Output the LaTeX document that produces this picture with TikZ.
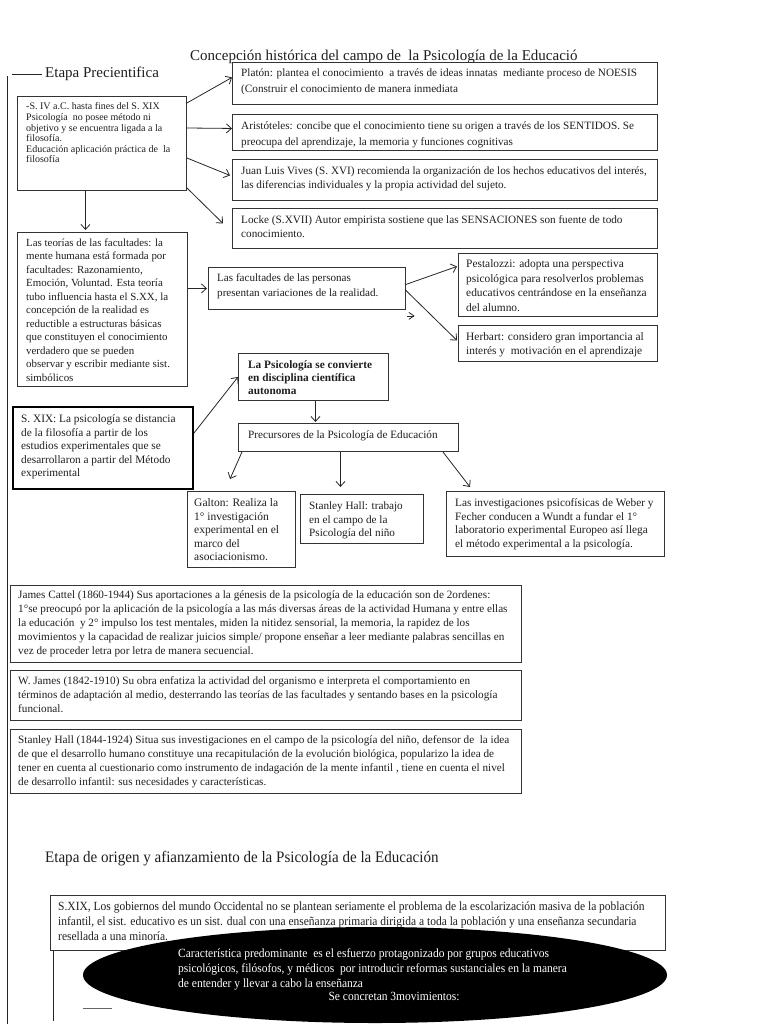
\documentclass[tikz,border=0pt]{standalone}
\usepackage{fontspec}
\setmainfont{Liberation Serif}
\newfontfamily\condfont[FakeStretch=0.92]{Liberation Serif}
\newfontfamily\condfontb[FakeStretch=0.94]{Liberation Serif}
\usetikzlibrary{arrows.meta,shapes.geometric}
\newcommand\mytb[1]{\parbox[t]{640pt}{\raggedright #1}}
\newcommand\fsz[2]{\fontsize{#1}{#2}\selectfont}
\begin{document}
\begin{tikzpicture}[x=1pt,y=-1pt,
 box/.style={draw=black!80, line width=0.9pt, fill=white, inner sep=0pt, anchor=north west},
 txt/.style={anchor=base west, inner sep=0pt, text=black!88},
 arr/.style={draw=black!85, line width=0.8pt, -{Straight Barb[length=5pt,width=9pt]}},
]
\useasboundingbox (0,0) rectangle (768,1024);
\fill[white] (0,0) rectangle (768,1024);

% title and stage label
\node[txt, font=\fsz{15}{18}] (title) at (190,61) {Concepción histórica del campo de\ \ la Psicología de la Educació};
\node[txt, font=\fsz{15}{18}] (etapa) at (45,78) {Etapa Precientifica};
\draw[line width=0.8pt, black!85] ([xshift=-3pt]etapa.west) -- ([xshift=-33pt]etapa.west);
\draw[line width=0.8pt, black!85] (7,76) -- (7,1024);

% right column boxes
\node[box, minimum width=425pt, minimum height=42pt] (pl) at (232,62) {};
\node[txt, font=\fsz{11.2}{16}] (pl-t) at (241,76.5) {\mytb{Platón: plantea el conocimiento\ \ a través de ideas innatas\ \ mediante proceso de NOESIS\\(Construir el conocimiento de manera inmediata}};
\node[box, minimum width=425pt, minimum height=36pt] (ar) at (232,114) {};
\node[txt, font=\fsz{11.2}{16}] (ar-t) at (241,129.5) {\mytb{Aristóteles: concibe que el conocimiento tiene su origen a través de los SENTIDOS. Se\\preocupa del aprendizaje, la memoria y funciones cognitivas}};
\node[box, minimum width=425pt, minimum height=41pt] (vi) at (232,159) {};
\node[txt, font=\fsz{11.2}{14.5}] (vi-t) at (241,174.5) {\mytb{Juan Luis Vives (S. XVI) recomienda la organización de los hechos educativos del interés,\\las diferencias individuales y la propia actividad del sujeto.}};
\node[box, minimum width=425pt, minimum height=40pt] (lo) at (232,208) {};
\node[txt, font=\fsz{11.2}{14.5}] (lo-t) at (241,223) {\mytb{Locke (S.XVII) Autor empirista sostiene que las SENSACIONES son fuente de todo\\conocimiento.}};

% box A
\node[box, minimum width=169pt, minimum height=94pt] (A) at (17,96) {};
\node[txt, font=\fsz{10}{10.6}] (A-t) at (26,110) {\mytb{-S. IV a.C. hasta fines del S. XIX\\Psicología\ \ no posee método ni\\objetivo y se encuentra ligada a la\\filosofía.\\Educación aplicación práctica de\ \ la\\filosofía}};

% box B
\node[box, minimum width=170pt, minimum height=154pt] (B) at (17,232) {};
\node[txt, font=\fsz{10.9}{13.5}] (B-t) at (26,246) {\mytb{Las teorías de las facultades: la\\mente humana está formada por\\facultades: Razonamiento,\\Emoción, Voluntad. Esta teoría\\tubo influencia hasta el S.XX, la\\concepción de la realidad es\\reductible a estructuras básicas\\que constituyen el conocimiento\\verdadero que se pueden\\observar y escribir mediante sist.\\simbólicos}};

% box C
\node[box, minimum width=197pt, minimum height=42pt] (C) at (208,267) {};
\node[txt, font=\fsz{11.1}{15}] (C-t) at (217,281.5) {\mytb{Las facultades de las personas\\presentan variaciones de la realidad.}};

% Pestalozzi, Herbart
\node[box, minimum width=199pt, minimum height=63pt] (pe) at (458,253) {};
\node[txt, font=\fsz{11.4}{14.7}] (pe-t) at (466,267.5) {\mytb{Pestalozzi: adopta una perspectiva\\psicológica para resolverlos problemas\\educativos centrándose en la enseñanza\\del alumno.}};
\node[box, minimum width=199pt, minimum height=36pt] (he) at (458,325) {};
\node[txt, font=\fsz{11.4}{14}] (he-t) at (466,340.5) {\mytb{Herbart: considero gran importancia al\\interés y\ \ motivación en el aprendizaje}};

% box D (bold)
\node[box, minimum width=150pt, minimum height=47pt] (D) at (238,353) {};
\node[txt, font=\fsz{11.3}{13}\bfseries] (D-t) at (248,368.5) {\mytb{La Psicología se convierte\\en disciplina científica\\autonoma}};

% box E (thick)
\node[box, draw=black, line width=2pt, minimum width=180pt, minimum height=82pt] (E) at (12,406) {};
\node[txt, font=\fsz{11.3}{13.5}] (E-t) at (21,422.5) {\mytb{S. XIX: La psicología se distancia\\de la filosofía a partir de los\\estudios experimentales que se\\desarrollaron a partir del Método\\experimental}};

% box F
\node[box, minimum width=220pt, minimum height=28pt] (F) at (238,423) {};
\node[txt, font=\fsz{11.2}{14}] (F-t) at (248,438.5) {Precursores de la Psicología de Educación};

% precursors
\node[box, minimum width=108pt, minimum height=76pt] (ga) at (187,491) {};
\node[txt, font=\fsz{11.5}{13.5}] (ga-t) at (194,506.5) {\mytb{Galton: Realiza la\\1° investigación\\experimental en el\\marco del\\asociacionismo.}};
\node[box, minimum width=123pt, minimum height=49pt] (st) at (300,494) {};
\node[txt, font=\fsz{11.2}{13.5}] (st-t) at (309,509.5) {\mytb{Stanley Hall: trabajo\\en el campo de la\\Psicología del niño}};
\node[box, minimum width=218pt, minimum height=65pt] (inv) at (446,491) {};
\node[txt, font=\fsz{11.3}{13.5}] (inv-t) at (455,506.5) {\mytb{Las investigaciones psicofísicas de Weber y\\Fecher conducen a Wundt a fundar el 1°\\laboratorio experimental Europeo así llega\\el método experimental a la psicología.}};

% wide boxes
\node[box, minimum width=511pt, minimum height=77pt] (jc) at (10,585) {};
\node[txt, font=\fsz{11.2}{14}] (jc-t) at (18,598.5) {\mytb{James Cattel (1860-1944) Sus aportaciones a la génesis de la psicología de la educación son de 2ordenes:\\1°se preocupó por la aplicación de la psicología a las más diversas áreas de la actividad Humana y entre ellas\\la educación\ \ y 2° impulso los test mentales, miden la nitidez sensorial, la memoria, la rapidez de los\\movimientos y la capacidad de realizar juicios simple/ propone enseñar a leer mediante palabras sencillas en\\vez de proceder letra por letra de manera secuencial.}};
\node[box, minimum width=511pt, minimum height=50pt] (wj) at (10,670) {};
\node[txt, font=\fsz{11.2}{14}] (wj-t) at (18,684.5) {\mytb{W. James (1842-1910) Su obra enfatiza la actividad del organismo e interpreta el comportamiento en\\términos de adaptación al medio, desterrando las teorías de las facultades y sentando bases en la psicología\\funcional.}};
\node[box, minimum width=511pt, minimum height=64pt] (sh) at (10,729) {};
\node[txt, font=\fsz{11.2}{14}] (sh-t) at (18,743.5) {\mytb{Stanley Hall (1844-1924) Situa sus investigaciones en el campo de la psicología del niño, defensor de\ \ la idea\\de que el desarrollo humano constituye una recapitulación de la evolución biológica, popularizo la idea de\\tener en cuenta al cuestionario como instrumento de indagación de la mente infantil , tiene en cuenta el nivel\\de desarrollo infantil: sus necesidades y características.}};

% second stage
\node[txt, font=\condfontb\fsz{16}{18}] (origen) at (45,862.5) {Etapa de origen y afianzamiento de la Psicología de la Educación};
\node[box, minimum width=615pt, minimum height=55pt] (sx) at (50,895) {};
\node[txt, font=\condfont\fsz{12.5}{15.3}] (sx-t) at (58,910) {\mytb{S.XIX, Los gobiernos del mundo Occidental no se plantean seriamente el problema de la escolarización masiva de la población\\infantil, el sist. educativo es un sist. dual con una enseñanza primaria dirigida a toda la población y una enseñanza secundaria\\resellada a una minoría.}};
\draw[line width=0.8pt, black!85] ([xshift=3pt]sx.south west) -- ([shift={(3pt,-70pt)}]sx.south west);
\node[ellipse, fill=black, minimum width=584pt, minimum height=96pt, inner sep=0pt] (ell) at (375,975) {};
\node[txt, text=white, font=\condfont\fsz{12.5}{15}] (ell-t) at (178,957) {\mytb{Característica predominante\ \ es el esfuerzo protagonizado por grupos educativos\\psicológicos, filósofos, y médicos\ \ por introducir reformas sustanciales en la manera\\de entender y llevar a cabo la enseñanza}};
\node[txt, anchor=base, text=white, font=\condfont\fsz{12.5}{15}] (ell-t2) at (394,1000.5) {Se concretan 3movimientos:};
\draw[line width=0.7pt, black!60] (83,1008) -- (112,1008);

% connectors
\draw[arr] ([yshift=-7pt]A.north east) -- ([yshift=6pt]pl.west);
\draw[arr] ([yshift=-32pt]A.north east) -- ([yshift=4pt]ar.west);
\draw[arr] ([yshift=-62pt]A.north east) -- ([shift={(-2pt,4.5pt)}]vi.west);
\draw[arr] ([yshift=3pt]A.south east) -- ([shift={(-9pt,5pt)}]lo.west);
\draw[arr] ([xshift=-16.5pt]A.south) -- ([shift={(-17pt,2pt)}]B.north);
\draw[arr] ([yshift=21pt]B.east) -- ([xshift=-1pt]C.west);
\draw[arr] ([yshift=4pt]C.east) -- ([shift={(-1pt,18.5pt)}]pe.west);
\draw[arr] ([yshift=-2pt]C.east) -- ([shift={(-1pt,3pt)}]he.west);
% stray small arrowhead below box C
\draw[line width=0.8pt, black!85] ([shift={(1pt,-6pt)}]C.south east) -- ([shift={(8pt,-6pt)}]C.south east);
\draw[line width=0.8pt, black!85, line join=miter] ([shift={(3pt,-2.5pt)}]C.south east) -- ([shift={(8pt,-6pt)}]C.south east) -- ([shift={(3pt,-9.5pt)}]C.south east);
\draw[arr] ([yshift=15pt]E.east) -- (D.west);
\draw[arr] ([xshift=2pt]D.south) -- ([shift={(-33pt,1pt)}]F.north);
\draw[arr] ([xshift=4pt]F.south west) -- ([shift={(43pt,12pt)}]ga.north west);
\draw[arr] ([xshift=-8pt]F.south) -- ([shift={(-21.5pt,7pt)}]st.north);
\draw[arr] ([xshift=-16pt]F.south east) -- ([shift={(24pt,4pt)}]inv.north west);
\end{tikzpicture}
\end{document}
